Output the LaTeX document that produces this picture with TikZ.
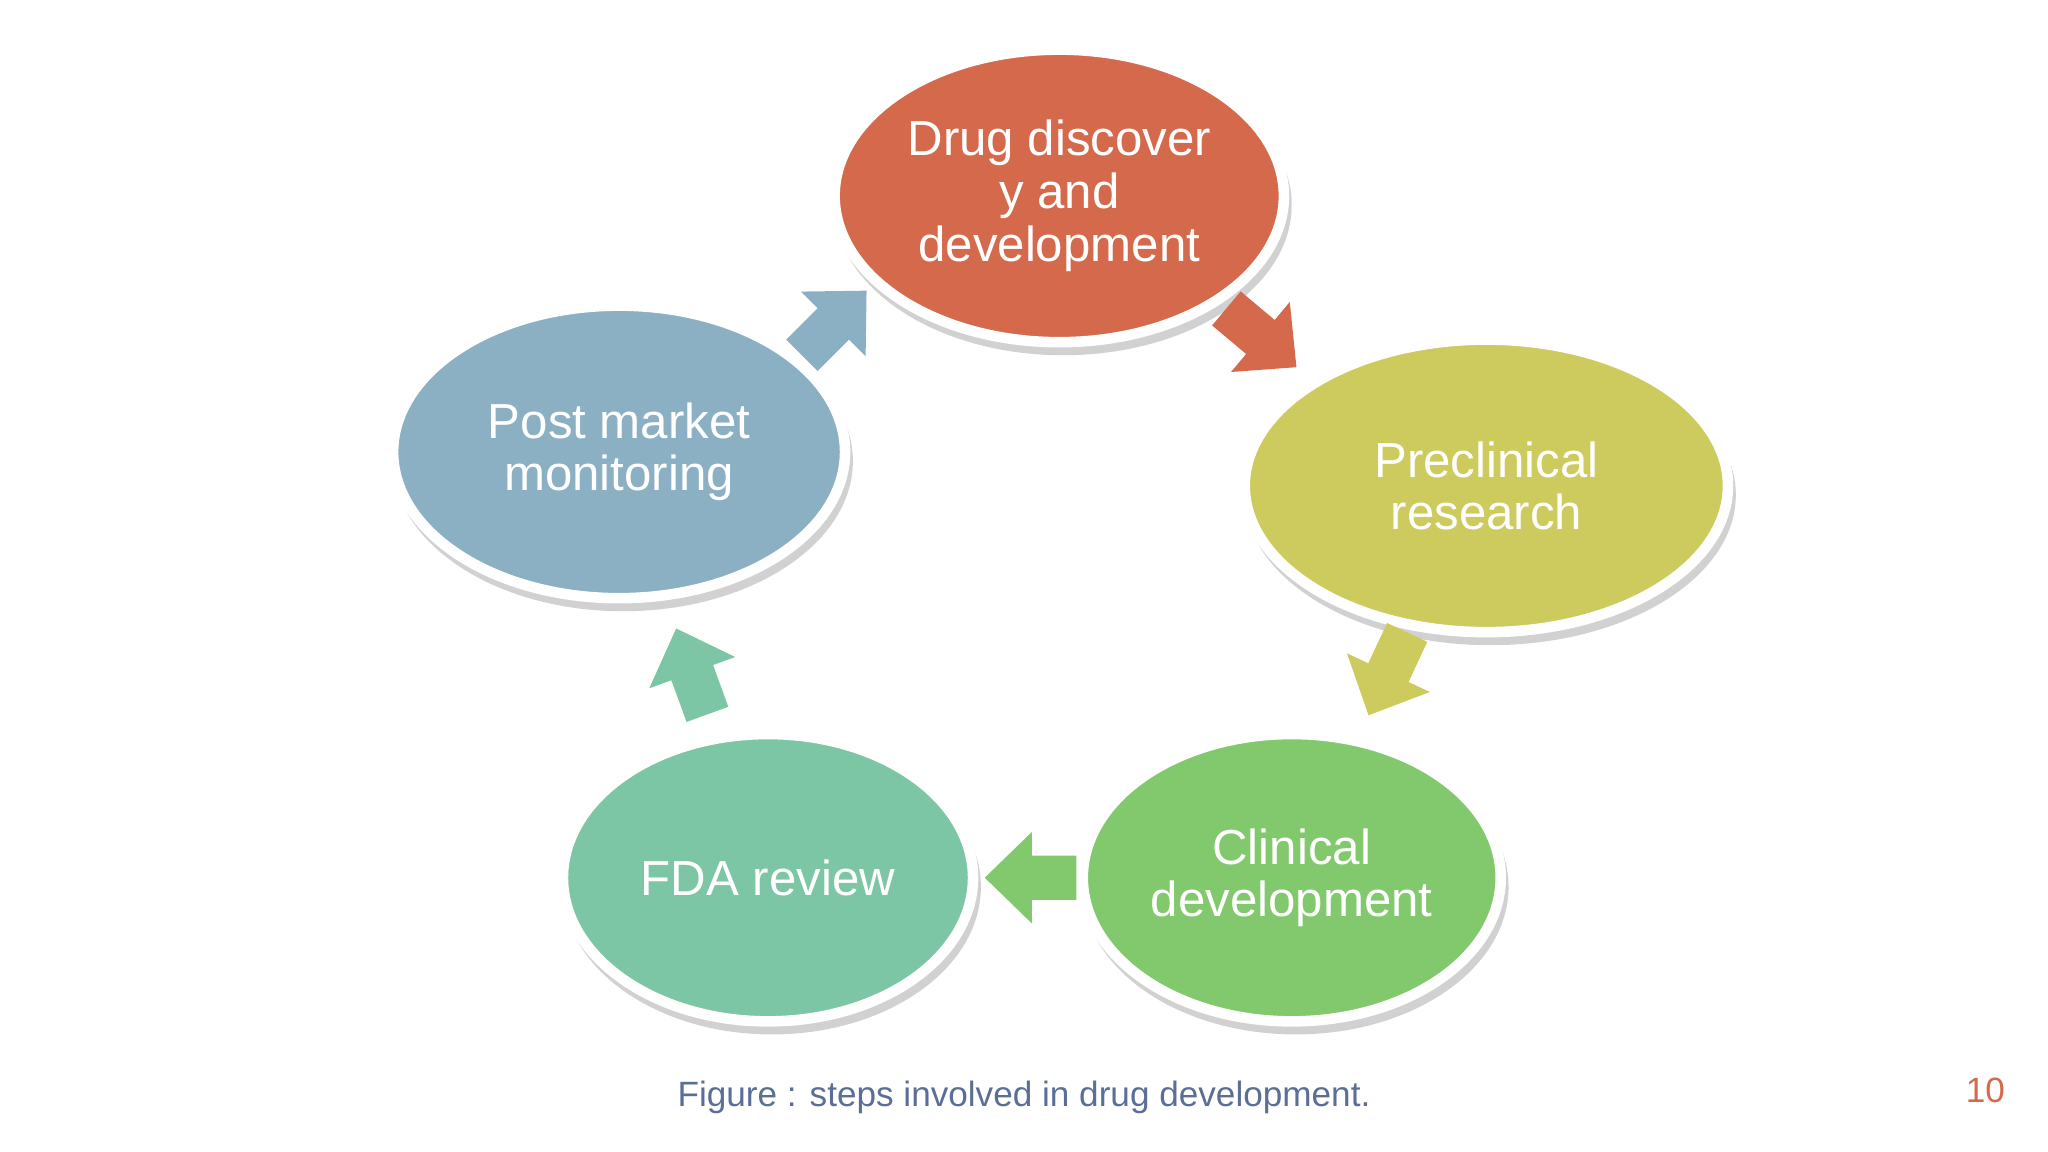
\documentclass[tikz,border=0pt]{standalone}
\usepackage{fontspec}
\usetikzlibrary{shapes.geometric}
\setmainfont{Liberation Sans}
\begin{document}
\begin{tikzpicture}[x=0.013061cm,y=-0.013061cm,
  stage/.style={ellipse,draw=white,line width=3pt,text=white,align=center,
    font=\fontsize{14}{15}\selectfont,inner sep=0pt}]
\useasboundingbox (0,0) rectangle (1568,882);
\tikzset{pics/barrow/.style={code={
  \fill[#1] (-34,-17) -- (0,-17) -- (0,-35) -- (36,0) -- (0,35) -- (0,17) -- (-34,17) -- cycle;}}}
\def\stagenode#1#2#3#4#5#6#7{%
  \fill[black!18] (#2+3,#3+7) ellipse ({(#4+3)*0.3716pt} and {(#5+3)*0.3716pt});
  \node[stage,fill=#6,minimum width={2*#4*0.3716pt},minimum height={2*#5*0.3716pt}] (#1) at (#2,#3) {#7};}
\definecolor{cA}{HTML}{D4694C}
\definecolor{cB}{HTML}{CDCB5E}
\definecolor{cC}{HTML}{82C96E}
\definecolor{cD}{HTML}{7DC6A5}
\definecolor{cE}{HTML}{8BB0C4}
\stagenode{drug}{811}{150}{172}{112}{cA}{Drug discover\\y and\\development}
\stagenode{pre}{1138}{372}{185}{112}{cB}{Preclinical\\research}
\stagenode{clin}{989}{672}{160}{110}{cC}{Clinical\\development}
\stagenode{fda}{588}{672}{157}{110}{cD}{FDA review}
\stagenode{post}{474}{346}{173}{112}{cE}{Post market\\monitoring}
\coordinate (a1) at (965,258);
\coordinate (a2) at (1063,515);
\coordinate (a3) at (790,672);
\coordinate (a4) at (530,515);
\coordinate (a5) at (638,248);
\pic[rotate=-40] at (a1) {barrow=cA};
\pic[rotate=-115] at (a2) {barrow=cB};
\pic[rotate=180] at (a3) {barrow=cC};
\pic[rotate=110] at (a4) {barrow=cD};
\pic[rotate=45] at (a5) {barrow=cE};
\node[text={rgb,255:red,90;green,110;blue,150},font=\fontsize{10}{12}\selectfont] (cap) at (784,840) {Figure : steps involved in drug development.};
\node[text=cA,font=\fontsize{10}{12}\selectfont] (pg) at (1520,835) {10};
\end{tikzpicture}
\end{document}
